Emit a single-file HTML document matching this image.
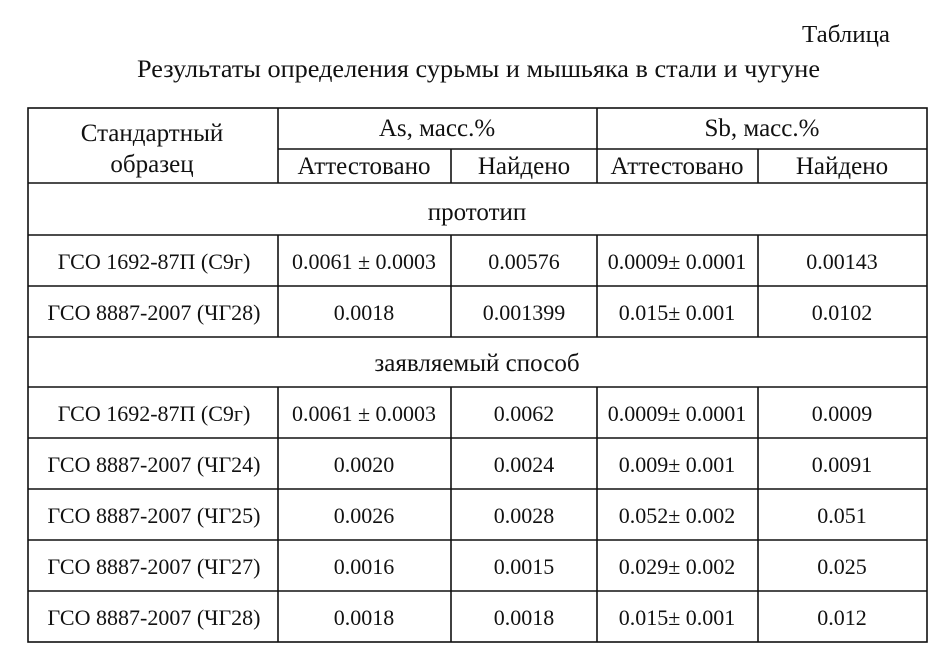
<!DOCTYPE html>
<html><head><meta charset="utf-8"><style>
html,body{margin:0;padding:0;background:#fff;}
svg{display:block;}
text{font-family:"Liberation Serif","DejaVu Serif",serif;fill:#111;}
</style></head><body>
<svg width="944" height="667" viewBox="0 0 944 667" xmlns="http://www.w3.org/2000/svg">
<text x="890" y="42" font-size="24" text-anchor="end" textLength="88" lengthAdjust="spacingAndGlyphs">Таблица</text>
<text x="137" y="77" font-size="25" textLength="683" lengthAdjust="spacingAndGlyphs">Результаты определения сурьмы и мышьяка в стали и чугуне</text>
<g stroke="#111" stroke-width="1.6" fill="none">
<rect x="28" y="108" width="899" height="534"/>
<line x1="278" y1="149" x2="927" y2="149"/>
<line x1="28" y1="183" x2="927" y2="183"/>
<line x1="28" y1="235" x2="927" y2="235"/>
<line x1="28" y1="286" x2="927" y2="286"/>
<line x1="28" y1="337" x2="927" y2="337"/>
<line x1="28" y1="387" x2="927" y2="387"/>
<line x1="28" y1="438" x2="927" y2="438"/>
<line x1="28" y1="489" x2="927" y2="489"/>
<line x1="28" y1="540" x2="927" y2="540"/>
<line x1="28" y1="591" x2="927" y2="591"/>
<line x1="278" y1="108" x2="278" y2="183"/>
<line x1="597" y1="108" x2="597" y2="183"/>
<line x1="451" y1="149" x2="451" y2="183"/>
<line x1="758" y1="149" x2="758" y2="183"/>
<line x1="278" y1="235" x2="278" y2="337"/>
<line x1="451" y1="235" x2="451" y2="337"/>
<line x1="597" y1="235" x2="597" y2="337"/>
<line x1="758" y1="235" x2="758" y2="337"/>
<line x1="278" y1="387" x2="278" y2="642"/>
<line x1="451" y1="387" x2="451" y2="642"/>
<line x1="597" y1="387" x2="597" y2="642"/>
<line x1="758" y1="387" x2="758" y2="642"/>
</g>
<g font-size="25" text-anchor="middle">
<text x="152" y="141">Стандартный</text>
<text x="152" y="172">образец</text>
<text x="437" y="136">As, масс.%</text>
<text x="762" y="136">Sb, масс.%</text>
<text x="364" y="174">Аттестовано</text>
<text x="524" y="174">Найдено</text>
<text x="677" y="174">Аттестовано</text>
<text x="842" y="174">Найдено</text>
<text x="477" y="220">прототип</text>
<text x="477" y="371">заявляемый способ</text>
</g>
<g font-size="22" text-anchor="middle">
<text x="154" y="269">ГСО 1692-87П (С9г)</text><text x="364" y="269">0.0061 ± 0.0003</text><text x="524" y="269">0.00576</text><text x="677" y="269">0.0009± 0.0001</text><text x="842" y="269">0.00143</text>
<text x="154" y="320">ГСО 8887-2007 (ЧГ28)</text><text x="364" y="320">0.0018</text><text x="524" y="320">0.001399</text><text x="677" y="320">0.015± 0.001</text><text x="842" y="320">0.0102</text>
<text x="154" y="421">ГСО 1692-87П (С9г)</text><text x="364" y="421">0.0061 ± 0.0003</text><text x="524" y="421">0.0062</text><text x="677" y="421">0.0009± 0.0001</text><text x="842" y="421">0.0009</text>
<text x="154" y="472">ГСО 8887-2007 (ЧГ24)</text><text x="364" y="472">0.0020</text><text x="524" y="472">0.0024</text><text x="677" y="472">0.009± 0.001</text><text x="842" y="472">0.0091</text>
<text x="154" y="523">ГСО 8887-2007 (ЧГ25)</text><text x="364" y="523">0.0026</text><text x="524" y="523">0.0028</text><text x="677" y="523">0.052± 0.002</text><text x="842" y="523">0.051</text>
<text x="154" y="574">ГСО 8887-2007 (ЧГ27)</text><text x="364" y="574">0.0016</text><text x="524" y="574">0.0015</text><text x="677" y="574">0.029± 0.002</text><text x="842" y="574">0.025</text>
<text x="154" y="625">ГСО 8887-2007 (ЧГ28)</text><text x="364" y="625">0.0018</text><text x="524" y="625">0.0018</text><text x="677" y="625">0.015± 0.001</text><text x="842" y="625">0.012</text>
</g>
</svg>
</body></html>
